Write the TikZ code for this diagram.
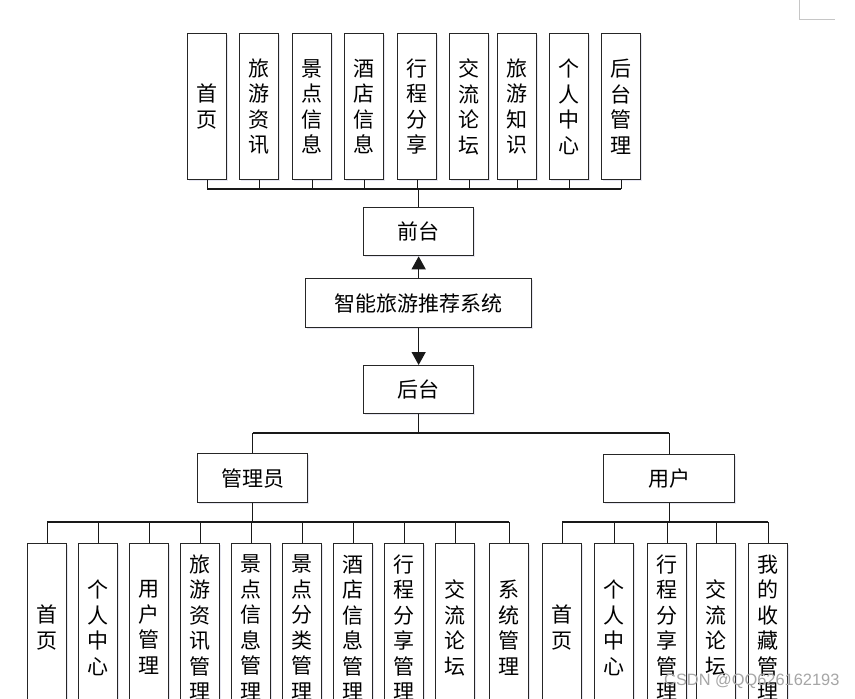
\documentclass[tikz,border=0pt]{standalone}
\usepackage{fontspec}
\newfontfamily\cjk{Noto Sans CJK SC}
\newfontfamily\wmfont{Liberation Sans}
\usetikzlibrary{arrows.meta,shadows}
\begin{document}
\begin{tikzpicture}[x=1pt,y=-1pt,
  box/.style={draw=black!85,line width=1.3pt,fill=white,inner sep=0pt,
    align=center,font=\cjk\fontsize{21}{25.5}\selectfont,
    drop shadow={shadow xshift=1.5pt,shadow yshift=-1.5pt,fill=blue!30!gray!25,opacity=0.6}},
  vbox/.style={box,anchor=north west,minimum width=39pt},
  hbox/.style={box,anchor=north west},
  link/.style={draw=black!90,line width=1.3pt},
  arr/.style={link,-{Triangle[width=14pt,length=13pt]}}
]
\useasboundingbox (0,0) rectangle (855,699);
\clip (0,0) rectangle (855,699);
\fill[white] (0,0) rectangle (855,699);

% top row
\node[vbox,minimum height=146pt] (t1) at (187,33) {首\\页};
\node[vbox,minimum height=146pt] (t2) at (239,33) {旅\\游\\资\\讯};
\node[vbox,minimum height=146pt] (t3) at (292,33) {景\\点\\信\\息};
\node[vbox,minimum height=146pt] (t4) at (344,33) {酒\\店\\信\\息};
\node[vbox,minimum height=146pt] (t5) at (397,33) {行\\程\\分\\享};
\node[vbox,minimum height=146pt] (t6) at (449,33) {交\\流\\论\\坛};
\node[vbox,minimum height=146pt] (t7) at (497,33) {旅\\游\\知\\识};
\node[vbox,minimum height=146pt] (t8) at (549,33) {个\\人\\中\\心};
\node[vbox,minimum height=146pt] (t9) at (601,33) {后\\台\\管\\理};

% middle
\node[hbox,minimum width=110pt,minimum height=48pt] (qt) at (363,207) {前台};
\node[hbox,minimum width=226pt,minimum height=49pt] (sys) at (305,278) {智能旅游推荐系统};
\node[hbox,minimum width=110pt,minimum height=48pt] (ht) at (363,365) {后台};
\node[hbox,minimum width=110pt,minimum height=49pt] (adm) at (197,453) {管理员};
\node[hbox,minimum width=131pt,minimum height=48pt] (usr) at (603,454) {用户};

% admin row
\node[vbox,minimum height=168pt] (a1) at (27,543) {首\\页};
\node[vbox,minimum height=168pt] (a2) at (78,543) {个\\人\\中\\心};
\node[vbox,minimum height=168pt] (a3) at (129,543) {用\\户\\管\\理};
\node[vbox,minimum height=168pt] (a4) at (180,543) {旅\\游\\资\\讯\\管\\理};
\node[vbox,minimum height=168pt] (a5) at (231,543) {景\\点\\信\\息\\管\\理};
\node[vbox,minimum height=168pt] (a6) at (282,543) {景\\点\\分\\类\\管\\理};
\node[vbox,minimum height=168pt] (a7) at (333,543) {酒\\店\\信\\息\\管\\理};
\node[vbox,minimum height=168pt] (a8) at (384,543) {行\\程\\分\\享\\管\\理};
\node[vbox,minimum height=168pt] (a9) at (435,543) {交\\流\\论\\坛};
\node[vbox,minimum height=168pt] (a10) at (489,543) {系\\统\\管\\理};

% user row
\node[vbox,minimum height=168pt] (u1) at (542,543) {首\\页};
\node[vbox,minimum height=168pt] (u2) at (594,543) {个\\人\\中\\心};
\node[vbox,minimum height=168pt] (u3) at (647,543) {行\\程\\分\\享\\管\\理};
\node[vbox,minimum height=168pt] (u4) at (696,543) {交\\流\\论\\坛};
\node[vbox,minimum height=168pt] (u5) at (748,543) {我\\的\\收\\藏\\管\\理};

% buses
\coordinate (busT) at (0,189);
\coordinate (busM) at (0,433);
\coordinate (busL) at (0,522);

\foreach \i in {1,...,9} \draw[link] (t\i.south) -- (t\i.south |- busT);
\draw[link] (t1.south |- busT) -- (t9.south |- busT);
\draw[link] (qt.north) -- (qt.north |- busT);

\draw[arr] (sys.north) -- (qt.south);
\draw[arr] (sys.south) -- (ht.north);

\draw[link] (ht.south) -- (ht.south |- busM);
\draw[link] (adm.north |- busM) -- (usr.north |- busM);
\draw[link] (adm.north) -- (adm.north |- busM);
\draw[link] (usr.north) -- (usr.north |- busM);

\draw[link] (adm.south) -- (adm.south |- busL);
\draw[link] (a1.north |- busL) -- (a10.north |- busL);
\foreach \i in {1,...,10} \draw[link] (a\i.north) -- (a\i.north |- busL);

\draw[link] (usr.south) -- (usr.south |- busL);
\draw[link] (u1.north |- busL) -- (u5.north |- busL);
\foreach \i in {1,...,5} \draw[link] (u\i.north) -- (u\i.north |- busL);

% corner mark
\draw[gray!45,line width=1pt] (799,0) -- (799,19) -- (835,19);

% watermark
\node[font=\wmfont\fontsize{16.4}{16.4}\selectfont,text=gray!70,anchor=west,inner sep=0pt] (wm) at (664,681) {CSDN @QQ626162193};
\end{tikzpicture}
\end{document}
